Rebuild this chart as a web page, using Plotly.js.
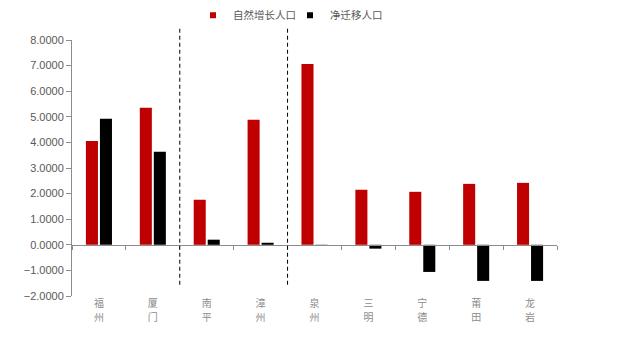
<!DOCTYPE html>
<html>
<head>
<meta charset="utf-8">
<script src="https://cdn.plot.ly/plotly-3.0.1.min.js"></script>
<style>html,body{margin:0;padding:0;background:#fff;}#chart{width:624px;height:340px;}</style>
</head>
<body>
<div id="chart"></div>
<script>
const categories = ["福州", "厦门", "南平", "漳州", "泉州", "三明", "宁德", "莆田", "龙岩"];
const labelTop = ["福", "厦", "南", "漳", "泉", "三", "宁", "莆", "龙"];
const labelBottom = ["州", "门", "平", "州", "州", "明", "德", "田", "岩"];
const naturalGrowth = [4.05, 5.35, 1.76, 4.88, 7.06, 2.15, 2.07, 2.38, 2.42];
const netMigration = [4.92, 3.63, 0.20, 0.08, -0.04, -0.15, -1.06, -1.41, -1.41];
const seriesNames = ["自然增长人口", "净迁移人口"];
const seriesColors = ["#C00000", "#000000"];
const dividers = [1.5, 3.5];

const font = "Liberation Sans, Arial, Noto Sans CJK SC, sans-serif";
const cjk = "Noto Sans CJK SC, sans-serif";
const traces = [
  {type: "bar", name: seriesNames[0], x: categories, y: naturalGrowth, marker: {color: seriesColors[0]}, showlegend: false},
  {type: "bar", name: seriesNames[1], x: categories, y: netMigration, marker: {color: seriesColors[1]}, showlegend: false},
  {type: "scatter", mode: "markers", name: seriesNames[0], x: [null], y: [null], legend: "legend", marker: {symbol: "square", size: 6, color: seriesColors[0]}},
  {type: "scatter", mode: "markers", name: seriesNames[1], x: [null], y: [null], legend: "legend2", marker: {symbol: "square", size: 6, color: seriesColors[1]}},
  {type: "scatter", mode: "markers", x: categories, y: naturalGrowth.map(() => null), xaxis: "x3", showlegend: false, hoverinfo: "skip"}
];
const boundaryTicks = [];
for (let i = 0; i <= categories.length; i++) boundaryTicks.push(i - 0.5);

const legendBase = {orientation: "h", xref: "container", xanchor: "left", yref: "container", y: 0.955, yanchor: "middle",
           font: {family: cjk, size: 10.5, color: "#595959"}, itemwidth: 30, bgcolor: "rgba(0,0,0,0)"};

const layout = {
  width: 624, height: 340,
  margin: {l: 72, r: 67, t: 40, b: 44},
  paper_bgcolor: "#fff", plot_bgcolor: "#fff",
  font: {family: font, size: 11, color: "#595959"},
  barmode: "group", bargap: 0.48, bargroupgap: 0.14,
  showlegend: true,
  legend: Object.assign({}, legendBase, {x: 193 / 624}),
  legend2: Object.assign({}, legendBase, {x: 290 / 624}),
  xaxis: {type: "category", range: [-0.5, 8.5], showline: false, ticks: "", showgrid: false, zeroline: false,
          tickmode: "array", tickvals: categories, ticktext: labelTop, ticklabelstandoff: 0,
          tickfont: {family: cjk, size: 10, color: "#8c8c8c"}},
  xaxis3: {type: "category", overlaying: "x", anchor: "y", side: "bottom", range: [-0.5, 8.5], showline: false, ticks: "",
          showgrid: false, zeroline: false, tickmode: "array", tickvals: categories, ticktext: labelBottom,
          ticklabelstandoff: 14, tickfont: {family: cjk, size: 10, color: "#8c8c8c"}},
  xaxis2: {overlaying: "x", anchor: "free", position: 0.2, range: [-0.5, 8.5], showline: true,
           linecolor: "#8c8c8c", linewidth: 1, ticks: "outside", ticklen: 4, tickcolor: "#8c8c8c",
           tickmode: "array", tickvals: boundaryTicks, showticklabels: false, showgrid: false, zeroline: false},
  yaxis: {range: [-2, 8], dtick: 1, tickformat: ".4f", showline: true, linecolor: "#8c8c8c", linewidth: 1,
          ticks: "outside", ticklen: 5, tickcolor: "#8c8c8c", showgrid: false, zeroline: false,
          tickfont: {size: 11, color: "#595959"}},
  shapes: dividers.map(d => ({type: "line", xref: "x2", yref: "paper", x0: d, x1: d, y0: 0.044, y1: 1.048,
          line: {color: "#000", width: 1, dash: "4px,3px"}}))
};
Plotly.newPlot("chart", traces, layout, {displayModeBar: false, staticPlot: true});
</script>
</body>
</html>
